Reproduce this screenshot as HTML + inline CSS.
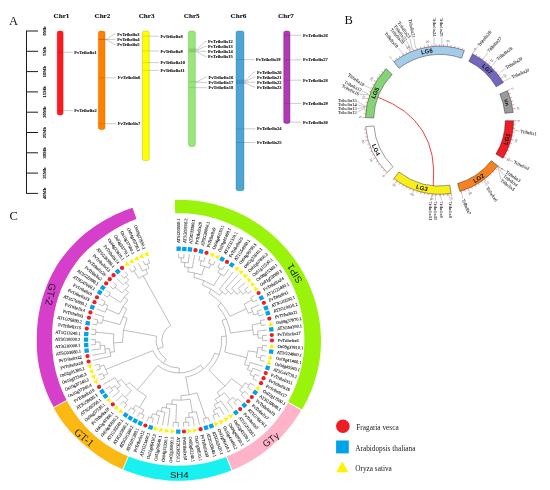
<!DOCTYPE html>
<html lang="en">
<head>
<meta charset="utf-8">
<title>FvTrihelix gene family: chromosomal location, synteny and phylogeny</title>
<style>
html,body{margin:0;padding:0;background:#fff;}
body{width:550px;height:490px;overflow:hidden;}
svg{display:block;}
</style>
</head>
<body>
<svg width="550" height="490" viewBox="0 0 550 490">
<rect width="550" height="490" fill="#fff"/>
<g id="panelA">
<text x="9" y="24.5" font-family="'Liberation Serif',serif" font-size="12.5" fill="#111">A</text>
<g stroke="#1c1c1c" stroke-width="1" fill="none">
<path d="M26.5 30.6V193.8"/>
<path d="M26.5 31H38"/>
<path d="M26.5 51.3H38"/>
<path d="M26.5 71.6H38"/>
<path d="M26.5 91.9H38"/>
<path d="M26.5 112.2H38"/>
<path d="M26.5 132.5H38"/>
<path d="M26.5 152.8H38"/>
<path d="M26.5 173.1H38"/>
<path d="M26.5 193.4H38"/>
</g>
<g font-family="'Liberation Serif',serif" font-weight="bold" font-size="4.5" fill="#111" stroke="#111" stroke-width="0.12" text-anchor="middle">
<text transform="translate(46,31) rotate(-90)">0Mb</text>
<text transform="translate(46,51.3) rotate(-90)">5Mb</text>
<text transform="translate(46,71.6) rotate(-90)">10Mb</text>
<text transform="translate(46,91.9) rotate(-90)">15Mb</text>
<text transform="translate(46,112.2) rotate(-90)">20Mb</text>
<text transform="translate(46,132.5) rotate(-90)">25Mb</text>
<text transform="translate(46,152.8) rotate(-90)">30Mb</text>
<text transform="translate(46,173.1) rotate(-90)">35Mb</text>
<text transform="translate(46,193.4) rotate(-90)">40Mb</text>
</g>
<g font-family="'Liberation Serif',serif" font-weight="bold" font-size="7.1" fill="#111" stroke="#111" stroke-width="0.12" text-anchor="middle">
<text x="61.5" y="18.1">Chr1</text>
<text x="102.4" y="18.1">Chr2</text>
<text x="146.6" y="18.1">Chr3</text>
<text x="191.7" y="18.1">Chr5</text>
<text x="238.5" y="18.1">Chr6</text>
<text x="286" y="18.1">Chr7</text>
</g>
<rect x="57.2" y="31" width="5.9" height="84" rx="1.9" ry="1.9" fill="#fb1a1f" stroke="#d01015" stroke-width="0.4"/>
<rect x="98.3" y="31" width="6.7" height="98.5" rx="1.9" ry="1.9" fill="#ff8000" stroke="#d86a00" stroke-width="0.4"/>
<rect x="142.4" y="31" width="6.8" height="129.6" rx="1.9" ry="1.9" fill="#ffff00" stroke="#b8a800" stroke-width="0.4"/>
<rect x="188.5" y="31" width="6.8" height="115.5" rx="1.9" ry="1.9" fill="#98e878" stroke="#5fae48" stroke-width="0.4"/>
<rect x="236" y="31" width="8" height="159.7" rx="1.9" ry="1.9" fill="#4ea5d4" stroke="#2f7fae" stroke-width="0.4"/>
<rect x="283.7" y="31" width="6.3" height="92.5" rx="1.9" ry="1.9" fill="#b03ab4" stroke="#7d2482" stroke-width="0.4"/>
<g stroke="#8a8a8a" stroke-width="0.45" fill="none">
<path d="M63.1 52.3H65.1L71.2 52.3H72.7"/>
<path d="M63.1 110.6H65.1L71.2 110.6H72.7"/>
<path d="M105 39.2H107L114.1 34H115.6"/>
<path d="M105 39.5H107L114.1 39.4H115.6"/>
<path d="M105 39.8H107L114.1 44.3H115.6"/>
<path d="M105 77.9H107L114.7 77.9H116.2"/>
<path d="M105 123.7H107L114.7 123.7H116.2"/>
<path d="M149.2 36.2H151.2L157.3 36.2H158.8"/>
<path d="M149.2 51H151.2L157.3 51H158.8"/>
<path d="M149.2 62.6H151.2L157.3 62.6H158.8"/>
<path d="M149.2 70.4H151.2L157.3 70.4H158.8"/>
<path d="M195.3 49H197.3L205 41.6H206.5"/>
<path d="M195.3 50H197.3L205 46.5H206.5"/>
<path d="M195.3 51H197.3L205 51.4H206.5"/>
<path d="M195.3 52H197.3L205 56.3H206.5"/>
<path d="M195.3 81.6H197.3L205.4 77.2H206.9"/>
<path d="M195.3 82.2H197.3L205.4 82.5H206.9"/>
<path d="M195.3 87.7H197.3L205.4 87.7H206.9"/>
<path d="M244 59.6H246L252.8 59.6H254.3"/>
<path d="M244 80.2H246L253.8 72H255.3"/>
<path d="M244 81.3H246L253.8 77.2H255.3"/>
<path d="M244 82.4H246L253.8 82.1H255.3"/>
<path d="M244 83.5H246L253.8 87H255.3"/>
<path d="M244 128.8H246L253.8 128.8H255.3"/>
<path d="M244 142.5H246L253.8 142.5H255.3"/>
<path d="M290 35.3H292L299.9 35.3H301.4"/>
<path d="M290 59.9H292L299.9 59.9H301.4"/>
<path d="M290 80.2H292L299.9 80.2H301.4"/>
<path d="M290 103.4H292L299.9 103.4H301.4"/>
<path d="M290 122.1H292L299.9 122.1H301.4"/>
</g>
<g stroke="#000" stroke-opacity="0.3" stroke-width="0.4" fill="none">
<path d="M57.4 52.3H62.9"/>
<path d="M57.4 110.6H62.9"/>
<path d="M98.5 39.2H104.8"/>
<path d="M98.5 39.5H104.8"/>
<path d="M98.5 77.9H104.8"/>
<path d="M98.5 123.7H104.8"/>
<path d="M142.6 36.2H149"/>
<path d="M142.6 51H149"/>
<path d="M142.6 62.6H149"/>
<path d="M142.6 70.4H149"/>
<path d="M188.7 49H195.1"/>
<path d="M188.7 50H195.1"/>
<path d="M188.7 51H195.1"/>
<path d="M188.7 52H195.1"/>
<path d="M188.7 81.6H195.1"/>
<path d="M188.7 87.7H195.1"/>
<path d="M236.2 59.6H243.8"/>
<path d="M236.2 80.2H243.8"/>
<path d="M236.2 81.3H243.8"/>
<path d="M236.2 82.4H243.8"/>
<path d="M236.2 83.5H243.8"/>
<path d="M236.2 128.8H243.8"/>
<path d="M236.2 142.5H243.8"/>
<path d="M283.9 35.3H289.8"/>
<path d="M283.9 59.9H289.8"/>
<path d="M283.9 80.2H289.8"/>
<path d="M283.9 103.4H289.8"/>
<path d="M283.9 122.1H289.8"/>
</g>
<g font-family="'Liberation Serif',serif" font-weight="bold" font-size="4.5" fill="#111" stroke="#111" stroke-width="0.1">
<text x="74.3" y="53.8">FvTrihelix1</text>
<text x="74.3" y="112.1">FvTrihelix2</text>
<text x="117.2" y="35.5">FvTrihelix3</text>
<text x="117.2" y="40.9">FvTrihelix4</text>
<text x="117.2" y="45.8">FvTrihelix5</text>
<text x="117.8" y="79.4">FvTrihelix6</text>
<text x="117.8" y="125.2">FvTrihelix7</text>
<text x="160.4" y="37.7">FvTrihelix8</text>
<text x="160.4" y="52.5">FvTrihelix9</text>
<text x="160.4" y="64.1">FvTrihelix10</text>
<text x="160.4" y="71.9">FvTrihelix11</text>
<text x="208.1" y="43.1">FvTrihelix12</text>
<text x="208.1" y="48">FvTrihelix13</text>
<text x="208.1" y="52.9">FvTrihelix14</text>
<text x="208.1" y="57.8">FvTrihelix15</text>
<text x="208.5" y="78.7">FvTrihelix16</text>
<text x="208.5" y="84">FvTrihelix17</text>
<text x="208.5" y="89.2">FvTrihelix18</text>
<text x="255.9" y="61.1">FvTrihelix19</text>
<text x="256.9" y="73.5">FvTrihelix20</text>
<text x="256.9" y="78.7">FvTrihelix21</text>
<text x="256.9" y="83.6">FvTrihelix22</text>
<text x="256.9" y="88.5">FvTrihelix23</text>
<text x="256.9" y="130.3">FvTrihelix24</text>
<text x="256.9" y="144">FvTrihelix25</text>
<text x="303" y="36.8">FvTrihelix26</text>
<text x="303" y="61.4">FvTrihelix27</text>
<text x="303" y="81.7">FvTrihelix28</text>
<text x="303" y="104.9">FvTrihelix29</text>
<text x="303" y="123.6">FvTrihelix30</text>
</g>
</g>
<g id="panelB">
<text x="344.5" y="24" font-family="'Liberation Serif',serif" font-size="12.5" fill="#111">B</text>
<g stroke="#f23a40" stroke-width="0.5" fill="none">
<path d="M393.88 61.81L392.03 59.44M396.92 59.55L395.83 58M400.08 57.46L399.07 55.85M403.34 55.52L402.41 53.86M406.69 53.76L405.85 52.06M410.13 52.17L408.94 49.41M413.65 50.76L412.98 48.98M417.23 49.53L416.66 47.71M420.87 48.48L420.39 46.64M424.56 47.62L424.18 45.76M428.29 46.95L427.84 43.99M432.05 46.48L431.86 44.59M435.83 46.19L435.73 44.29M439.62 46.1L439.62 44.2M443.4 46.2L443.5 44.31M447.18 46.5L447.49 43.52M450.94 46.99L451.23 45.11M454.67 47.67L455.05 45.81M458.35 48.54L458.84 46.7M461.99 49.6L462.57 47.79"/>
<path d="M472.56 53.89L473.9 51.2M475.91 55.66L476.84 54.01M479.16 57.61L480.18 56M482.31 59.72L483.41 58.17M485.34 61.98L486.52 60.49M488.26 64.4L490.23 62.14M491.05 66.97L492.37 65.6M493.7 69.67L495.09 68.38M496.21 72.51L497.67 71.29M498.58 75.47L500.09 74.32M500.79 78.55L503.27 76.86M502.84 81.74L504.46 80.75"/>
<path d="M507.45 90.65L510.21 89.46M508.88 94.16L510.65 93.5M510.12 97.75L511.93 97.17M511.17 101.38L513.01 100.9M512.04 105.07L513.9 104.68M512.72 108.8L515.68 108.34"/>
<path d="M513.6 120.72L516.6 120.74M513.47 124.5L515.37 124.61M513.16 128.28L515.05 128.49M512.65 132.03L514.52 132.34M511.95 135.76L513.81 136.16M511.06 139.44L513.96 140.22M509.98 143.07L511.79 143.66M508.72 146.65L510.49 147.32M507.28 150.15L509.02 150.92M505.66 153.58L507.35 154.43M503.87 156.91L506.47 158.4"/>
<path d="M497.89 165.82L500.26 167.67M495.48 168.75L496.92 169.99M492.93 171.54L494.3 172.86M490.23 174.21L491.54 175.59M487.41 176.73L488.64 178.18M484.46 179.11L486.28 181.49M481.39 181.33L482.46 182.89M478.21 183.39L479.2 185.01M474.93 185.28L475.83 186.95M471.55 187.01L472.37 188.72M468.1 188.56L469.25 191.33M464.56 189.93L465.21 191.72M460.97 191.12L461.52 192.94"/>
<path d="M451.09 193.39L451.56 196.35M447.34 193.88L447.54 195.77M443.56 194.19L443.66 196.09M439.77 194.3L439.78 196.2M435.98 194.22L435.89 196.11M432.2 193.94L431.91 196.93M428.45 193.47L428.16 195.35M424.71 192.81L424.34 194.67M421.02 191.96L420.55 193.8M417.38 190.92L416.81 192.73M413.79 189.7L412.75 192.51M410.27 188.29L409.52 190.04M406.83 186.71L405.99 188.42M403.47 184.95L402.55 186.61M400.21 183.03L399.2 184.64M397.05 180.94L395.33 183.4M394 178.69L392.84 180.19"/>
<path d="M387.1 172.6L384.98 174.72M384.49 169.85L383.08 171.12M382.03 166.97L380.55 168.17M379.71 163.97L378.18 165.1M377.55 160.86L375.96 161.9M375.56 157.64L372.97 159.16M373.72 154.32L372.04 155.2M372.07 150.92L370.34 151.7M370.58 147.43L368.82 148.13M369.28 143.87L367.48 144.48M368.16 140.25L365.28 141.06M367.23 136.58L365.38 137M366.49 132.86L364.62 133.19M365.94 129.11L364.05 129.34"/>
<path d="M365.45 117.61L362.45 117.51M365.67 113.83L363.78 113.67M366.1 110.07L364.21 109.81M366.71 106.33L364.84 105.97M367.51 102.63L365.67 102.17M368.51 98.97L365.63 98.11M369.68 95.37L367.89 94.73M371.05 91.83L369.29 91.1M372.59 88.37L370.87 87.55M374.3 84.99L372.63 84.09M376.18 81.7L373.62 80.15M378.24 78.52L376.66 77.45M380.45 75.44L378.93 74.29M382.81 72.48L381.36 71.26M385.32 69.65L383.94 68.35"/>
</g>
<g font-family="'Liberation Sans',sans-serif" font-size="3.1" fill="#444" text-anchor="middle">
<text transform="translate(390.68,57.71) rotate(-38)" y="0.9">0</text>
<text transform="translate(408.07,47.39) rotate(-23.35)" y="0.9">10</text>
<text transform="translate(427.51,41.81) rotate(-8.7)" y="0.9">20</text>
<text transform="translate(447.72,41.33) rotate(5.95)" y="0.9">30</text>
<text transform="translate(474.88,49.23) rotate(26.5)" y="0.9">0</text>
<text transform="translate(491.68,60.49) rotate(41.15)" y="0.9">10</text>
<text transform="translate(505.09,75.63) rotate(55.8)" y="0.9">20</text>
<text transform="translate(512.22,88.58) rotate(66.5)" y="0.9">0</text>
<text transform="translate(517.86,108) rotate(81.15)" y="0.9">10</text>
<text transform="translate(518.8,120.75) rotate(-89.6)" y="0.9">0</text>
<text transform="translate(516.08,140.79) rotate(-74.95)" y="0.9">10</text>
<text transform="translate(508.38,159.49) rotate(-60.3)" y="0.9">20</text>
<text transform="translate(501.99,169.02) rotate(-52)" y="0.9">0</text>
<text transform="translate(487.61,183.24) rotate(-37.35)" y="0.9">10</text>
<text transform="translate(470.1,193.36) rotate(-22.7)" y="0.9">20</text>
<text transform="translate(451.91,198.52) rotate(-9)" y="0.9">0</text>
<text transform="translate(431.69,199.11) rotate(5.65)" y="0.9">10</text>
<text transform="translate(411.99,194.57) rotate(20.3)" y="0.9">20</text>
<text transform="translate(394.07,185.2) rotate(34.95)" y="0.9">30</text>
<text transform="translate(383.43,176.27) rotate(45)" y="0.9">0</text>
<text transform="translate(371.07,160.27) rotate(59.65)" y="0.9">10</text>
<text transform="translate(363.16,141.66) rotate(74.3)" y="0.9">20</text>
<text transform="translate(360.25,117.43) rotate(272)" y="0.9">0</text>
<text transform="translate(363.52,97.48) rotate(286.65)" y="0.9">10</text>
<text transform="translate(371.74,79) rotate(301.3)" y="0.9">20</text>
</g>
<path d="M393.88 61.81A74.1 74.1 0 0 1 464.36 50.39L461.57 58.21A65.8 65.8 0 0 0 398.99 68.35Z" fill="#a3cbea" stroke="#222" stroke-width="0.45"/>
<path d="M472.56 53.89A74.1 74.1 0 0 1 503.35 82.59L496.2 86.8A65.8 65.8 0 0 0 468.86 61.31Z" fill="#7266bf" stroke="#222" stroke-width="0.45"/>
<path d="M507.45 90.65A74.1 74.1 0 0 1 513.19 112.45L504.94 113.32A65.8 65.8 0 0 0 499.84 93.96Z" fill="#9a9a9a" stroke="#222" stroke-width="0.45"/>
<path d="M513.6 120.72A74.1 74.1 0 0 1 503.02 158.36L495.9 154.09A65.8 65.8 0 0 0 505.3 120.66Z" fill="#ee1c24" stroke="#222" stroke-width="0.45"/>
<path d="M497.89 165.82A74.1 74.1 0 0 1 459.92 191.43L457.64 183.45A65.8 65.8 0 0 0 491.35 160.71Z" fill="#f5821f" stroke="#222" stroke-width="0.45"/>
<path d="M451.09 193.39A74.1 74.1 0 0 1 393.88 178.59L398.99 172.05A65.8 65.8 0 0 0 449.79 185.19Z" fill="#f8ef1a" stroke="#222" stroke-width="0.45"/>
<path d="M387.1 172.6A74.1 74.1 0 0 1 365.68 126.66L373.95 125.93A65.8 65.8 0 0 0 392.97 166.73Z" fill="#ffffff" stroke="#222" stroke-width="0.45"/>
<path d="M365.45 117.61A74.1 74.1 0 0 1 386.2 68.73L392.17 74.49A65.8 65.8 0 0 0 373.74 117.9Z" fill="#84d475" stroke="#222" stroke-width="0.45"/>
<g font-family="'Liberation Sans',sans-serif" font-weight="bold" font-size="6" fill="#111" text-anchor="middle">
<text transform="translate(426.87,51.4) rotate(-10.4)" y="2.1">LG6</text>
<text transform="translate(487.21,69.04) rotate(43)" y="2.1">LG7</text>
<text transform="translate(507.14,102.39) rotate(75.25)" y="2.1" font-size="5.3">un</text>
<text transform="translate(506.84,139.13) rotate(-74.3)" y="2.1">LG1</text>
<text transform="translate(478.62,178.19) rotate(-34)" y="2.1">LG2</text>
<text transform="translate(421.99,187.92) rotate(14.5)" y="2.1">LG3</text>
<text transform="translate(376.1,149.76) rotate(65)" y="2.1">LG4</text>
<text transform="translate(375.11,92.87) rotate(293)" y="2.1">LG5</text>
</g>
<path d="M377.8 97.2Q439.5 120 433.2 185.8" fill="none" stroke="#ee2a2e" stroke-width="0.9"/>
<g stroke="#666" stroke-width="0.35" fill="none">
<path d="M473.7 51.5L478.07 46.5"/>
<path d="M483.8 58.3L487.86 52.17"/>
<path d="M492.8 65L496.71 60.03"/>
<path d="M499.5 72.9L505.17 68.4"/>
<path d="M505 80.7L511.08 77.66"/>
<path d="M514 130.2L519.61 131.16"/>
<path d="M507.3 159.4L513.25 161.71"/>
<path d="M498 166.3L505.63 171.36"/>
<path d="M497.8 166.6L503.45 175.04"/>
<path d="M497.6 166.9L500.99 179.23"/>
<path d="M483.8 180.7L486.75 186.68"/>
<path d="M461.2 191.8L462.82 198.62"/>
<path d="M448.6 193.8L450.49 200.73"/>
<path d="M440.3 194.3L441.64 200.72"/>
<path d="M434.8 194.2L435.69 200.71"/>
<path d="M432.8 194L430.37 200.75"/>
<path d="M404 54.8L397.83 47.8"/>
<path d="M410.9 50.2L404.08 43.75"/>
<path d="M411.6 49.9L406.41 41.29"/>
<path d="M412.3 49.6L409.78 38.38"/>
<path d="M415.6 48L413.84 38.39"/>
<path d="M434 46L434.09 37.4"/>
<path d="M441.8 46L441.89 37.4"/>
<path d="M371 88.6L364.52 85.54"/>
<path d="M368.2 93.8L362.03 91.03"/>
<path d="M368 94.6L359.7 94.42"/>
<path d="M365.4 106.6L357.47 101.34"/>
<path d="M365.3 107L357.57 104.91"/>
<path d="M365.2 107.4L357.59 108.67"/>
<path d="M365.1 107.8L357.49 112.39"/>
</g>
<g font-family="'Liberation Serif',serif" font-size="4.5" fill="#1a1a1a" stroke="#1a1a1a" stroke-width="0.06">
<text transform="translate(478.6,45.9) rotate(-50.82)" y="1.4" text-anchor="start">Trihelix26</text>
<text transform="translate(488.3,51.5) rotate(-47.45)" y="1.4" text-anchor="start">Trihelix27</text>
<text transform="translate(497.2,59.4) rotate(-38.13)" y="1.4" text-anchor="start">Trihelix28</text>
<text transform="translate(505.8,67.9) rotate(-30.65)" y="1.4" text-anchor="start">Trihelix29</text>
<text transform="translate(511.8,77.3) rotate(-23.43)" y="1.4" text-anchor="start">Trihelix30</text>
<text transform="translate(520.4,131.3) rotate(9.91)" y="1.4" text-anchor="start">Trihelix1</text>
<text transform="translate(514,162) rotate(24.82)" y="1.4" text-anchor="start">Trihelix2</text>
<text transform="translate(506.3,171.8) rotate(33.87)" y="1.4" text-anchor="start">Trihelix3</text>
<text transform="translate(503.9,175.7) rotate(36.67)" y="1.4" text-anchor="start">Trihelix4</text>
<text transform="translate(501.2,180) rotate(37.97)" y="1.4" text-anchor="start">Trihelix5</text>
<text transform="translate(487.1,187.4) rotate(55.33)" y="1.4" text-anchor="start">Trihelix6</text>
<text transform="translate(463,199.4) rotate(65.9)" y="1.4" text-anchor="start">Trihelix7</text>
<text transform="translate(450.7,201.5) rotate(90)" y="1.4" text-anchor="start">Trihelix8</text>
<text transform="translate(441.8,201.5) rotate(90)" y="1.4" text-anchor="start">Trihelix9</text>
<text transform="translate(435.8,201.5) rotate(90)" y="1.4" text-anchor="start">Trihelix10</text>
<text transform="translate(430.1,201.5) rotate(90)" y="1.4" text-anchor="start">Trihelix11</text>
<text transform="translate(397.3,47.2) rotate(50.51)" y="1.4" text-anchor="end">Trihelix19</text>
<text transform="translate(403.5,43.2) rotate(48.42)" y="1.4" text-anchor="end">Trihelix20</text>
<text transform="translate(406,40.6) rotate(53.19)" y="1.4" text-anchor="end">Trihelix22</text>
<text transform="translate(409.6,37.6) rotate(54.5)" y="1.4" text-anchor="end">Trihelix23</text>
<text transform="translate(413.7,37.6) rotate(77.97)" y="1.4" text-anchor="end">Trihelix21</text>
<text transform="translate(434.1,36.6) rotate(90)" y="1.4" text-anchor="end">Trihelix24</text>
<text transform="translate(441.9,36.6) rotate(90)" y="1.4" text-anchor="end">Trihelix25</text>
<text transform="translate(363.8,85.2) rotate(34.68)" y="1.4" text-anchor="end">Trihelix18</text>
<text transform="translate(361.3,90.7) rotate(28.28)" y="1.4" text-anchor="end">Trihelix17</text>
<text transform="translate(358.9,94.4) rotate(27.33)" y="1.4" text-anchor="end">Trihelix16</text>
<text transform="translate(356.8,100.9) rotate(0)" y="1.4" text-anchor="end">Trihelix15</text>
<text transform="translate(356.8,104.7) rotate(0)" y="1.4" text-anchor="end">Trihelix14</text>
<text transform="translate(356.8,108.8) rotate(0)" y="1.4" text-anchor="end">Trihelix13</text>
<text transform="translate(356.8,112.8) rotate(0)" y="1.4" text-anchor="end">Trihelix12</text>
</g>
</g>
<g id="panelC">
<text x="9.5" y="219.6" font-family="'Liberation Serif',serif" font-size="12.5" fill="#111">C</text>
<path d="M174.79 199.96L178.55 199.89L182.3 199.91L186.05 200.04L189.8 200.27L193.53 200.59L197.26 201.02L200.98 201.55L204.68 202.18L208.37 202.89L212.03 203.71L215.68 204.62L219.3 205.63L222.89 206.73L226.45 207.94L229.97 209.23L233.47 210.62L236.92 212.11L240.33 213.68L243.71 215.35L247.03 217.11L250.31 218.96L253.54 220.89L256.71 222.91L259.83 225.01L262.9 227.2L265.9 229.47L268.84 231.82L271.72 234.25L274.54 236.75L277.28 239.33L279.97 241.97L282.59 244.68L285.14 247.46L287.62 250.31L290.01 253.22L292.33 256.2L294.58 259.24L296.73 262.33L298.81 265.49L300.8 268.7L302.71 271.97L304.53 275.28L306.26 278.65L307.89 282.06L309.44 285.51L310.9 289.01L312.26 292.54L313.52 296.12L314.69 299.72L315.77 303.36L316.74 307.02L317.62 310.71L318.4 314.43L319.08 318.16L319.65 321.92L320.12 325.69L320.48 329.47L320.74 333.26L320.9 337.06L320.95 340.86L320.91 344.66L320.76 348.46L320.51 352.25L320.16 356.04L319.71 359.82L319.07 363.57L318.34 367.3L317.5 371.01L316.57 374.7L315.53 378.35L314.4 381.98L313.18 385.57L311.85 389.13L310.44 392.65L308.93 396.12L307.33 399.56L305.64 402.95L303.86 406.29L301.99 409.58L288.06 401.7L289.67 398.76L291.21 395.78L292.67 392.75L294.04 389.69L295.34 386.6L296.55 383.47L297.67 380.3L298.71 377.11L299.67 373.9L300.53 370.65L301.32 367.39L302.01 364.1L302.61 360.8L303.13 357.49L303.56 354.16L303.9 350.82L304.15 347.47L304.3 344.11L304.37 340.76L304.35 337.4L304.24 334.04L304.04 330.69L303.75 327.35L303.37 324.01L302.9 320.68L302.39 317.36L301.8 314.06L301.12 310.76L300.35 307.49L299.49 304.24L298.54 301L297.51 297.8L296.39 294.62L295.18 291.47L293.9 288.35L292.52 285.27L291.06 282.22L289.52 279.22L287.9 276.25L286.2 273.33L284.42 270.46L282.57 267.63L280.63 264.85L278.63 262.12L276.55 259.45L274.4 256.83L272.17 254.27L269.88 251.76L267.51 249.34L265.05 247L262.53 244.73L259.96 242.52L257.32 240.39L254.62 238.32L251.88 236.33L249.08 234.41L246.23 232.57L243.33 230.81L240.38 229.12L237.39 227.52L234.36 225.99L231.29 224.54L228.18 223.18L225.03 221.9L221.86 220.71L218.65 219.6L215.41 218.58L212.15 217.65L208.86 216.8L205.55 216.04L202.22 215.37L198.88 214.79L195.52 214.3L192.15 213.9L188.77 213.59L185.38 213.37L181.98 213.24L178.59 213.2L175.19 213.26Z" fill="#9af30a"/>
<path d="M301.14 410.24L299.16 413.56L297.09 416.83L294.92 420.04L292.67 423.2L290.34 426.28L287.92 429.31L285.41 432.26L282.83 435.14L280.17 437.96L277.43 440.69L274.62 443.35L271.74 445.93L268.78 448.43L265.76 450.84L262.67 453.17L259.52 455.42L256.31 457.58L253.04 459.64L249.71 461.62L246.34 463.5L242.91 465.29L239.43 466.99L235.91 468.59L232.35 470.09L226.74 456.4L229.94 455.09L233.11 453.7L236.24 452.22L239.33 450.65L242.38 449L245.38 447.26L248.33 445.44L251.23 443.54L254.09 441.56L256.88 439.51L259.62 437.37L262.31 435.16L264.89 432.83L267.37 430.39L269.77 427.89L272.11 425.32L274.37 422.69L276.56 420L278.68 417.25L280.72 414.45L282.67 411.59L284.55 408.68L286.35 405.72L288.06 402.71Z" fill="#ffb3c9"/>
<path d="M231.37 470.27L227.82 471.67L224.23 472.98L220.6 474.19L216.94 475.3L213.26 476.31L209.54 477.22L205.8 478.02L202.04 478.73L198.27 479.33L194.47 479.83L190.66 480.23L186.85 480.52L183.02 480.71L179.19 480.8L175.36 480.77L171.54 480.63L167.71 480.39L163.9 480.04L160.09 479.59L156.3 479.04L152.52 478.38L148.77 477.62L145.03 476.76L141.32 475.8L137.64 474.74L133.98 473.58L130.36 472.32L126.78 470.96L123.23 469.5L128.81 456.54L132.03 457.78L135.28 458.94L138.56 460L141.86 460.97L145.19 461.85L148.54 462.65L151.9 463.34L155.29 463.95L158.68 464.47L162.08 464.89L165.5 465.21L168.91 465.45L172.33 465.59L175.76 465.64L179.17 465.6L182.59 465.59L186.01 465.48L189.42 465.27L192.83 464.98L196.23 464.59L199.62 464.11L202.99 463.54L206.35 462.88L209.69 462.12L213.01 461.28L216.31 460.34L219.58 459.31L222.82 458.2L226.03 457Z" fill="#19f0f0"/>
<path d="M122.28 469.2L118.75 467.61L115.25 465.92L111.81 464.14L108.41 462.26L105.07 460.29L101.78 458.22L98.55 456.07L95.39 453.83L92.28 451.5L89.23 449.09L86.26 446.59L83.32 444.05L80.4 441.48L77.56 438.82L74.78 436.09L72.08 433.28L69.45 430.39L66.9 427.43L64.43 424.39L62.04 421.29L59.81 418.07L57.73 414.75L55.74 411.38L53.85 407.95L66.95 400.84L68.67 403.89L70.46 406.9L72.34 409.86L74.3 412.77L76.34 415.62L78.46 418.41L80.65 421.14L82.92 423.82L85.26 426.42L87.67 428.97L90.15 431.44L92.7 433.85L95.33 436.17L98.03 438.4L100.79 440.55L103.61 442.63L106.48 444.63L109.41 446.55L112.39 448.38L115.41 450.14L118.48 451.81L121.6 453.39L124.76 454.89L127.95 456.29Z" fill="#fdb913"/>
<path d="M53.56 406.98L51.78 403.59L50.09 400.15L48.5 396.66L47 393.14L45.6 389.57L44.29 385.97L43.08 382.33L41.96 378.66L40.95 374.97L40.04 371.24L39.22 367.49L38.51 363.72L37.9 359.93L37.47 356.12L37.15 352.3L36.92 348.47L36.81 344.64L36.79 340.81L36.79 336.98L36.87 333.15L37.05 329.32L37.34 325.5L37.72 321.68L38.22 317.88L38.81 314.08L39.5 310.31L40.3 306.55L41.2 302.81L42.2 299.1L43.3 295.41L44.5 291.76L45.82 288.14L47.24 284.56L48.76 281.03L50.37 277.53L52.07 274.08L53.87 270.67L55.76 267.31L57.75 264.01L59.93 260.83L62.19 257.72L64.53 254.66L66.95 251.68L69.46 248.76L72.03 245.91L74.68 243.14L77.4 240.44L80.19 237.82L83.05 235.27L86.01 232.84L89.04 230.51L92.12 228.26L95.27 226.11L98.46 224.04L101.69 222.02L104.94 220.06L108.25 218.19L111.6 216.42L114.99 214.73L118.43 213.14L121.91 211.64L125.42 210.23L128.97 208.93L132.55 207.72L136.52 219.04L133.29 220.26L130.1 221.57L126.94 222.96L123.82 224.44L120.75 226L117.72 227.64L114.73 229.36L111.79 231.16L108.91 233.04L106.07 234.99L103.29 237.02L100.51 239.06L97.75 241.11L95.04 243.25L92.38 245.46L89.79 247.74L87.25 250.09L84.77 252.51L82.36 255L80.04 257.57L77.89 260.3L75.82 263.08L73.82 265.91L71.9 268.79L70.06 271.73L68.3 274.71L66.62 277.73L65.03 280.8L63.51 283.91L62.09 287.06L60.75 290.25L59.54 293.49L58.42 296.75L57.39 300.04L56.45 303.36L55.6 306.7L54.84 310.05L54.17 313.43L53.59 316.81L53.1 320.21L52.71 323.62L52.41 327.04L52.2 330.46L52.08 333.88L52.05 337.3L52.1 340.72L52.13 344.14L52.25 347.56L52.47 350.97L52.78 354.38L53.18 357.78L53.67 361.16L54.25 364.54L54.93 367.89L55.69 371.23L56.55 374.55L57.49 377.84L58.52 381.11L59.64 384.35L60.85 387.56L62.14 390.74L63.52 393.88L64.99 396.99L66.53 400.05Z" fill="#d53fca"/>
<text transform="translate(294.59,273.6) rotate(-120.5)" font-family="'Liberation Sans',sans-serif" font-size="9.5" fill="#1a1a1a" text-anchor="middle" y="3.32">SIP1</text>
<text transform="translate(270.76,439.63) rotate(-38)" font-family="'Liberation Sans',sans-serif" font-size="9.5" fill="#1a1a1a" text-anchor="middle" y="3.32">GTγ</text>
<text transform="translate(179.23,474.3) rotate(0)" font-family="'Liberation Sans',sans-serif" font-size="9.6" fill="#1a1a1a" text-anchor="middle" y="3.36">SH4</text>
<text transform="translate(84.23,437.32) rotate(39.5)" font-family="'Liberation Serif',serif" font-size="10.6" fill="#1a1a1a" text-anchor="middle" y="3.71">GT-1</text>
<text transform="translate(50.68,294.25) rotate(101)" font-family="'Liberation Sans',sans-serif" font-size="10" fill="#1a1a1a" text-anchor="middle" y="3.5">GT-2</text>
<g transform="translate(179.0,340.2) scale(1.008,0.992) translate(-179.0,-340.2)">
<path d="M178.69 252.7L178.71 257.2M184 252.84L183.75 257.34M178.71 257.2A83 83 0 0 1 183.75 257.34M181.23 257.23L181.11 261.73M189.3 253.31L188.24 262.25M181.11 261.73A78.5 78.5 0 0 1 188.24 262.25M184.68 261.91L184.35 266.39M194.55 254.09L192.15 267.38M184.35 266.39A74 74 0 0 1 192.15 267.38M199.75 255.19L198.68 259.57M204.87 256.61L203.54 260.91M198.68 259.57A83 83 0 0 1 203.54 260.91M209.89 258.33L208.3 262.54M214.8 260.36L212.96 264.46M208.3 262.54A83 83 0 0 1 212.96 264.46M201.12 260.2L199.92 264.54M210.64 263.47L208.93 267.63M199.92 264.54A78.5 78.5 0 0 1 208.93 267.63M188.26 266.78L187.7 271.25M204.47 265.95L201.55 274.46M187.7 271.25A69.5 69.5 0 0 1 201.55 274.46M219.58 262.68L217.49 266.66M224.21 265.28L221.88 269.14M217.49 266.66A83 83 0 0 1 221.88 269.14M219.71 267.87L217.5 271.79M228.67 268.16L223.56 275.57M217.5 271.79A78.5 78.5 0 0 1 223.56 275.57M194.71 272.5L193.69 276.88M220.57 273.61L213.42 285.06M193.69 276.88A65 65 0 0 1 213.42 285.06M247.93 286.3L244.38 289.07M251.07 290.58L247.36 293.13M244.38 289.07A83 83 0 0 1 247.36 293.13M244.53 282.22L237.79 288.18M245.9 291.08L242.28 293.74M237.79 288.18A78.5 78.5 0 0 1 242.28 293.74M240.89 278.35L231.34 287.89M240.1 290.91L236.59 293.74M231.34 287.89A74 74 0 0 1 236.59 293.74M237.03 274.71L225.09 288.18M234.05 290.74L230.7 293.75M225.09 288.18A69.5 69.5 0 0 1 230.7 293.75M232.95 271.31L219.08 289.02M227.97 290.89L224.8 294.08M219.08 289.02A65 65 0 0 1 224.8 294.08M203.9 280.16L202.17 284.31M222.01 291.47L219.04 294.84M202.17 284.31A60.5 60.5 0 0 1 219.04 294.84M253.95 295.04L250.09 297.36M256.55 299.67L252.56 301.75M250.09 297.36A83 83 0 0 1 252.56 301.75M260.88 309.36L256.67 310.94M262.6 314.38L258.3 315.7M256.67 310.94A83 83 0 0 1 258.3 315.7M258.86 304.45L250.65 308.12M257.52 313.31L253.27 314.77M250.65 308.12A78.5 78.5 0 0 1 253.27 314.77M251.36 299.54L243.51 303.95M252.03 311.42L247.85 313.07M243.51 303.95A74 74 0 0 1 247.85 313.07M211.04 288.88L208.66 292.7M245.84 308.43L229.58 316.16M208.66 292.7A56 56 0 0 1 229.58 316.16M264.01 319.49L259.64 320.56M265.11 324.69L260.68 325.48M259.64 320.56A83 83 0 0 1 260.68 325.48M266.36 335.22L261.87 335.48M266.5 340.52L262 340.51M261.87 335.48A83 83 0 0 1 262 340.51M265.9 329.93L256.96 330.99M261.97 337.99L257.47 338.11M256.96 330.99A78.5 78.5 0 0 1 257.47 338.11M260.2 323.01L251.4 324.88M257.3 334.54L252.81 334.87M251.4 324.88A74 74 0 0 1 252.81 334.87M220.8 302.93L217.44 305.93M252.27 329.85L229.99 333M217.44 305.93A51.5 51.5 0 0 1 229.99 333M266.32 345.83L261.83 345.54M265.82 351.11L261.35 350.55M261.83 345.54A83 83 0 0 1 261.35 350.55M265 356.35L260.57 355.52M263.86 361.53L259.5 360.43M260.57 355.52A83 83 0 0 1 259.5 360.43M261.63 348.04L257.15 347.62M260.07 357.98L255.68 357.02M257.15 347.62A78.5 78.5 0 0 1 255.68 357.02M258.6 376.52L254.51 374.65M256.26 381.28L252.29 379.16M254.51 374.65A83 83 0 0 1 252.29 379.16M260.66 371.63L252.26 368.4M253.43 376.93L249.4 374.93M252.26 368.4A78.5 78.5 0 0 1 249.4 374.93M262.41 366.63L249.54 362.55M250.9 371.7L246.78 369.89M249.54 362.55A74 74 0 0 1 246.78 369.89M256.56 352.34L247.66 350.95M248.26 366.26L244.05 364.68M247.66 350.95A69.5 69.5 0 0 1 244.05 364.68M225.72 318.53L221.64 320.42M246.21 357.9L224.45 352.17M221.64 320.42A47 47 0 0 1 224.45 352.17M253.63 385.88L249.79 383.53M250.73 390.31L247.04 387.74M249.79 383.53A83 83 0 0 1 247.04 387.74M247.56 394.57L244.04 391.77M244.14 398.62L240.79 395.61M244.04 391.77A83 83 0 0 1 240.79 395.61M248.45 385.65L244.68 383.19M242.44 393.72L239 390.81M244.68 383.19A78.5 78.5 0 0 1 239 390.81M240.49 402.45L237.33 399.25M236.61 406.06L233.65 402.67M237.33 399.25A83 83 0 0 1 233.65 402.67M235.51 400.99L232.45 397.69M232.52 409.43L227.01 402.31M232.45 397.69A78.5 78.5 0 0 1 227.01 402.31M219.13 417.95L217.07 413.95M214.36 420.24L212.54 416.12M217.07 413.95A83 83 0 0 1 212.54 416.12M223.76 415.38L219.16 407.65M214.82 415.07L212.88 411.01M219.16 407.65A78.5 78.5 0 0 1 212.88 411.01M228.23 412.54L220.63 401.38M216.06 409.4L213.93 405.44M220.63 401.38A74 74 0 0 1 213.93 405.44M229.78 400.06L223.96 393.2M217.34 403.49L215.01 399.65M223.96 393.2A69.5 69.5 0 0 1 215.01 399.65M241.96 387.09L231.13 379.02M219.61 396.6L216.98 392.95M231.13 379.02A65 65 0 0 1 216.98 392.95M225.82 336.05L221.14 336.47M224.59 386.53L208.67 370.35M221.14 336.47A42.3 42.3 0 0 1 208.67 370.35M209.45 422.23L207.89 418.01M204.43 423.92L203.13 419.62M207.89 418.01A83 83 0 0 1 203.13 419.62M188.91 427.14L188.4 422.67M183.63 427.58L183.39 423.08M188.4 422.67A83 83 0 0 1 183.39 423.08M194.14 426.38L192.59 417.52M185.9 422.91L185.52 418.43M192.59 417.52A78.5 78.5 0 0 1 185.52 418.43M199.33 425.31L196.19 412.18M189.07 418.05L188.49 413.59M196.19 412.18A74 74 0 0 1 188.49 413.59M178.34 427.7L178.38 423.2M173.06 427.5L173.36 423.01M178.38 423.2A83 83 0 0 1 173.36 423.01M152.33 423.54L153.7 419.25M147.34 421.77L148.97 417.58M153.7 419.25A83 83 0 0 1 148.97 417.58M157.41 424.99L159.63 416.27M151.32 418.45L152.82 414.21M159.63 416.27A78.5 78.5 0 0 1 152.82 414.21M162.57 426.14L165.1 412.88M156.2 415.32L157.51 411.01M165.1 412.88A74 74 0 0 1 157.51 411.01M167.79 426.98L170.1 409.13M161.28 412.05L162.36 407.68M170.1 409.13A69.5 69.5 0 0 1 162.36 407.68M175.87 423.14L176.55 405.15M166.21 408.51L167.04 404.09M176.55 405.15A65 65 0 0 1 167.04 404.09M192.36 412.98L189.92 399.71M171.77 404.8L172.27 400.32M189.92 399.71A60.5 60.5 0 0 1 172.27 400.32M205.52 418.85L196.89 393.26M181.12 400.66L180.96 396.17M196.89 393.26A56 56 0 0 1 180.96 396.17M218.7 354.81L214.48 353.25M189.03 395.29L185.77 377.39M214.48 353.25A37.8 37.8 0 0 1 185.77 377.39M142.47 419.71L144.35 415.62M137.74 417.36L139.86 413.39M144.35 415.62A83 83 0 0 1 139.86 413.39M133.16 414.73L135.51 410.9M128.74 411.82L131.32 408.14M135.51 410.9A83 83 0 0 1 131.32 408.14M142.09 414.54L144.09 410.51M133.4 409.55L135.87 405.79M144.09 410.51A78.5 78.5 0 0 1 135.87 405.79M124.51 408.66L127.31 405.14M120.47 405.25L123.48 401.9M127.31 405.14A83 83 0 0 1 123.48 401.9M125.37 403.55L128.28 400.11M116.66 401.6L123.07 395.28M128.28 400.11A78.5 78.5 0 0 1 123.07 395.28M109.71 393.64L113.28 390.89M106.62 389.36L110.34 386.83M113.28 390.89A83 83 0 0 1 110.34 386.83M113.06 397.72L119.85 391.81M111.78 388.88L115.42 386.24M119.85 391.81A78.5 78.5 0 0 1 115.42 386.24M117.57 389.08L121.09 386.27M103.78 384.91L115.39 378.01M121.09 386.27A74 74 0 0 1 115.39 378.01M125.62 397.76L131.74 391.16M118.1 382.24L121.8 379.68M131.74 391.16A69.5 69.5 0 0 1 121.8 379.68M139.91 408.27L146.63 396.57M126.46 385.69L129.86 382.75M146.63 396.57A65 65 0 0 1 129.86 382.75M203.33 369.13L200.24 365.46M137.66 390.36L158.01 365.67M200.24 365.46A33 33 0 0 1 158.01 365.67M101.22 380.29L105.22 378.23M98.95 375.52L103.06 373.71M105.22 378.23A83 83 0 0 1 103.06 373.71M96.96 370.63L101.18 369.07M95.28 365.63L99.58 364.32M101.18 369.07A83 83 0 0 1 99.58 364.32M104.11 375.98L108.17 374.04M100.35 366.7L104.61 365.27M108.17 374.04A78.5 78.5 0 0 1 104.61 365.27M179.16 373.2L179.14 368.2M106.26 369.71L153.05 350.73M179.14 368.2A28 28 0 0 1 153.05 350.73M91.63 344.88L96.12 344.64M91.5 339.61L96 339.64M96.12 344.64A83 83 0 0 1 96 339.64M92.07 350.14L101.01 349.12M96.02 342.14L100.52 342.04M101.01 349.12A78.5 78.5 0 0 1 100.52 342.04M92.82 355.36L106.12 353.03M100.68 345.58L105.17 345.27M106.12 353.03A74 74 0 0 1 105.17 345.27M93.9 360.53L111.4 356.35M105.54 349.16L110.01 348.62M111.4 356.35A69.5 69.5 0 0 1 110.01 348.62M91.7 334.33L96.19 334.64M92.21 329.08L96.67 329.65M96.19 334.64A83 83 0 0 1 96.67 329.65M110.6 352.5L115.03 351.71M96.39 332.14L114.31 333.89M115.03 351.71A65 65 0 0 1 114.31 333.89M93.04 323.87L97.46 324.71M94.18 318.72L98.54 319.83M97.46 324.71A83 83 0 0 1 98.54 319.83M97.96 322.26L102.36 323.23M95.63 313.65L104.2 316.38M102.36 323.23A78.5 78.5 0 0 1 104.2 316.38M99.42 303.81L103.52 305.68M101.76 299.08L105.73 301.2M103.52 305.68A83 83 0 0 1 105.73 301.2M97.38 308.67L105.77 311.92M104.59 303.43L108.63 305.42M105.77 311.92A78.5 78.5 0 0 1 108.63 305.42M104.38 294.51L108.22 296.86M107.27 290.09L110.96 292.67M108.22 296.86A83 83 0 0 1 110.96 292.67M110.42 285.86L113.94 288.66M113.81 281.83L117.17 284.83M113.94 288.66A83 83 0 0 1 117.17 284.83M121.31 274.41L124.27 277.8M125.37 271.06L128.13 274.61M124.27 277.8A83 83 0 0 1 128.13 274.61M117.45 278.01L123.78 284.41M126.18 276.18L129.04 279.65M123.78 284.41A78.5 78.5 0 0 1 129.04 279.65M115.53 286.72L122.41 292.52M126.36 281.97L129.38 285.31M122.41 292.52A74 74 0 0 1 129.38 285.31M109.56 294.74L120.85 302.14M125.77 288.79L129.01 291.92M120.85 302.14A69.5 69.5 0 0 1 129.01 291.92M107.13 308.64L119.49 314.06M124.69 296.84L128.2 299.64M119.49 314.06A65 65 0 0 1 128.2 299.64M103.2 319.79L120.58 324.47M123.38 306.57L127.23 308.9M120.58 324.47A60.5 60.5 0 0 1 127.23 308.9M114.05 342.82L123.05 342.46M123.36 316.45L127.5 318.22M123.05 342.46A56 56 0 0 1 127.5 318.22M163.42 363.46L166.31 359.14M123.92 330.09L156.57 336.08M166.31 359.14A22.8 22.8 0 0 1 156.57 336.08M129.64 267.95L132.18 271.67M134.08 265.11L136.39 268.97M132.18 271.67A83 83 0 0 1 136.39 268.97M143.43 260.25L145.26 264.37M148.31 258.26L149.89 262.47M145.26 264.37A83 83 0 0 1 149.89 262.47M138.68 262.54L142.83 270.53M147.56 263.38L149.27 267.55M142.83 270.53A78.5 78.5 0 0 1 149.27 267.55M134.26 270.29L139.11 277.87M146.01 268.97L147.91 273.05M139.11 277.87A74 74 0 0 1 147.91 273.05M158 349.07L163.34 346.81M143.43 275.31L170.83 325.29M163.34 346.81A17 17 0 0 1 170.83 325.29" fill="none" stroke="#7d7d7d" stroke-width="0.5"/>
<g>
<rect x="-2.15" y="-2.15" width="4.3" height="4.3" fill="#00a2e8" transform="translate(178.68,248) rotate(-0.2)"/>
<rect x="-2.15" y="-2.15" width="4.3" height="4.3" fill="#00a2e8" transform="translate(184.27,248.15) rotate(3.28)"/>
<rect x="-2.15" y="-2.15" width="4.3" height="4.3" fill="#00a2e8" transform="translate(189.85,248.64) rotate(6.76)"/>
<circle cx="195.38" cy="249.47" r="2.1" fill="#ee1c24"/>
<rect x="-2.15" y="-2.15" width="4.3" height="4.3" fill="#00a2e8" transform="translate(200.86,250.63) rotate(13.72)"/>
<circle cx="206.25" cy="252.12" r="2.1" fill="#ee1c24"/>
<path d="M0 -2.5L2.5 2.1H-2.5Z" fill="#fff200" transform="translate(211.55,253.94) rotate(-69.33)"/>
<path d="M0 -2.5L2.5 2.1H-2.5Z" fill="#fff200" transform="translate(216.72,256.07) rotate(-65.85)"/>
<rect x="-2.15" y="-2.15" width="4.3" height="4.3" fill="#00a2e8" transform="translate(221.76,258.51) rotate(27.63)"/>
<circle cx="226.63" cy="261.26" r="2.1" fill="#ee1c24"/>
<rect x="-2.15" y="-2.15" width="4.3" height="4.3" fill="#00a2e8" transform="translate(231.34,264.29) rotate(34.59)"/>
<path d="M0 -2.5L2.5 2.1H-2.5Z" fill="#fff200" transform="translate(235.85,267.61) rotate(-51.94)"/>
<path d="M0 -2.5L2.5 2.1H-2.5Z" fill="#fff200" transform="translate(240.14,271.19) rotate(-48.46)"/>
<path d="M0 -2.5L2.5 2.1H-2.5Z" fill="#fff200" transform="translate(244.22,275.03) rotate(-44.98)"/>
<path d="M0 -2.5L2.5 2.1H-2.5Z" fill="#fff200" transform="translate(248.05,279.1) rotate(-41.5)"/>
<path d="M0 -2.5L2.5 2.1H-2.5Z" fill="#fff200" transform="translate(251.63,283.4) rotate(-38.03)"/>
<path d="M0 -2.5L2.5 2.1H-2.5Z" fill="#fff200" transform="translate(254.94,287.91) rotate(-34.55)"/>
<circle cx="257.97" cy="292.62" r="2.1" fill="#ee1c24"/>
<rect x="-2.15" y="-2.15" width="4.3" height="4.3" fill="#00a2e8" transform="translate(260.71,297.49) rotate(62.41)"/>
<circle cx="263.15" cy="302.53" r="2.1" fill="#ee1c24"/>
<rect x="-2.15" y="-2.15" width="4.3" height="4.3" fill="#00a2e8" transform="translate(265.28,307.7) rotate(69.36)"/>
<rect x="-2.15" y="-2.15" width="4.3" height="4.3" fill="#00a2e8" transform="translate(267.09,312.99) rotate(72.84)"/>
<circle cx="268.58" cy="318.38" r="2.1" fill="#ee1c24"/>
<path d="M0 -2.5L2.5 2.1H-2.5Z" fill="#fff200" transform="translate(269.74,323.85) rotate(-10.21)"/>
<rect x="-2.15" y="-2.15" width="4.3" height="4.3" fill="#00a2e8" transform="translate(270.56,329.38) rotate(83.26)"/>
<circle cx="271.05" cy="334.95" r="2.1" fill="#ee1c24"/>
<circle cx="271.2" cy="340.54" r="2.1" fill="#ee1c24"/>
<path d="M0 -2.5L2.5 2.1H-2.5Z" fill="#fff200" transform="translate(271.01,346.13) rotate(3.69)"/>
<rect x="-2.15" y="-2.15" width="4.3" height="4.3" fill="#00a2e8" transform="translate(270.48,351.69) rotate(97.16)"/>
<path d="M0 -2.5L2.5 2.1H-2.5Z" fill="#fff200" transform="translate(269.62,357.21) rotate(10.63)"/>
<path d="M0 -2.5L2.5 2.1H-2.5Z" fill="#fff200" transform="translate(268.42,362.67) rotate(14.11)"/>
<rect x="-2.15" y="-2.15" width="4.3" height="4.3" fill="#00a2e8" transform="translate(266.89,368.05) rotate(107.58)"/>
<circle cx="265.05" cy="373.32" r="2.1" fill="#ee1c24"/>
<circle cx="262.88" cy="378.47" r="2.1" fill="#ee1c24"/>
<circle cx="260.41" cy="383.48" r="2.1" fill="#ee1c24"/>
<path d="M0 -2.5L2.5 2.1H-2.5Z" fill="#fff200" transform="translate(257.64,388.33) rotate(31.47)"/>
<rect x="-2.15" y="-2.15" width="4.3" height="4.3" fill="#00a2e8" transform="translate(254.58,393.01) rotate(124.94)"/>
<circle cx="251.24" cy="397.49" r="2.1" fill="#ee1c24"/>
<circle cx="247.64" cy="401.75" r="2.1" fill="#ee1c24"/>
<rect x="-2.15" y="-2.15" width="4.3" height="4.3" fill="#00a2e8" transform="translate(243.79,405.8) rotate(135.35)"/>
<circle cx="239.7" cy="409.6" r="2.1" fill="#ee1c24"/>
<rect x="-2.15" y="-2.15" width="4.3" height="4.3" fill="#00a2e8" transform="translate(235.39,413.14) rotate(142.29)"/>
<path d="M0 -2.5L2.5 2.1H-2.5Z" fill="#fff200" transform="translate(230.87,416.42) rotate(55.76)"/>
<path d="M0 -2.5L2.5 2.1H-2.5Z" fill="#fff200" transform="translate(226.17,419.42) rotate(59.23)"/>
<path d="M0 -2.5L2.5 2.1H-2.5Z" fill="#fff200" transform="translate(221.29,422.13) rotate(62.7)"/>
<path d="M0 -2.5L2.5 2.1H-2.5Z" fill="#fff200" transform="translate(216.26,424.54) rotate(66.17)"/>
<rect x="-2.15" y="-2.15" width="4.3" height="4.3" fill="#00a2e8" transform="translate(211.09,426.64) rotate(159.63)"/>
<rect x="-2.15" y="-2.15" width="4.3" height="4.3" fill="#00a2e8" transform="translate(205.8,428.42) rotate(163.1)"/>
<circle cx="200.42" cy="429.88" r="2.1" fill="#ee1c24"/>
<path d="M0 -2.5L2.5 2.1H-2.5Z" fill="#fff200" transform="translate(194.96,431.01) rotate(80.03)"/>
<path d="M0 -2.5L2.5 2.1H-2.5Z" fill="#fff200" transform="translate(189.44,431.81) rotate(83.5)"/>
<circle cx="183.88" cy="432.27" r="2.1" fill="#ee1c24"/>
<rect x="-2.15" y="-2.15" width="4.3" height="4.3" fill="#00a2e8" transform="translate(178.31,432.4) rotate(180.43)"/>
<path d="M0 -2.5L2.5 2.1H-2.5Z" fill="#fff200" transform="translate(172.74,432.19) rotate(93.89)"/>
<path d="M0 -2.5L2.5 2.1H-2.5Z" fill="#fff200" transform="translate(167.19,431.64) rotate(97.36)"/>
<path d="M0 -2.5L2.5 2.1H-2.5Z" fill="#fff200" transform="translate(161.69,430.76) rotate(100.82)"/>
<path d="M0 -2.5L2.5 2.1H-2.5Z" fill="#fff200" transform="translate(156.25,429.55) rotate(104.29)"/>
<rect x="-2.15" y="-2.15" width="4.3" height="4.3" fill="#00a2e8" transform="translate(150.89,428.01) rotate(197.75)"/>
<circle cx="145.64" cy="426.15" r="2.1" fill="#ee1c24"/>
<rect x="-2.15" y="-2.15" width="4.3" height="4.3" fill="#00a2e8" transform="translate(140.51,423.98) rotate(204.67)"/>
<rect x="-2.15" y="-2.15" width="4.3" height="4.3" fill="#00a2e8" transform="translate(135.52,421.51) rotate(208.14)"/>
<rect x="-2.15" y="-2.15" width="4.3" height="4.3" fill="#00a2e8" transform="translate(130.69,418.73) rotate(211.6)"/>
<rect x="-2.15" y="-2.15" width="4.3" height="4.3" fill="#00a2e8" transform="translate(126.04,415.67) rotate(215.06)"/>
<path d="M0 -2.5L2.5 2.1H-2.5Z" fill="#fff200" transform="translate(121.58,412.34) rotate(128.52)"/>
<path d="M0 -2.5L2.5 2.1H-2.5Z" fill="#fff200" transform="translate(117.33,408.74) rotate(131.98)"/>
<circle cx="113.31" cy="404.89" r="2.1" fill="#ee1c24"/>
<path d="M0 -2.5L2.5 2.1H-2.5Z" fill="#fff200" transform="translate(109.52,400.81) rotate(138.9)"/>
<rect x="-2.15" y="-2.15" width="4.3" height="4.3" fill="#00a2e8" transform="translate(105.99,396.51) rotate(232.36)"/>
<rect x="-2.15" y="-2.15" width="4.3" height="4.3" fill="#00a2e8" transform="translate(102.73,392) rotate(235.82)"/>
<circle cx="99.74" cy="387.31" r="2.1" fill="#ee1c24"/>
<path d="M0 -2.5L2.5 2.1H-2.5Z" fill="#fff200" transform="translate(97.04,382.44) rotate(152.73)"/>
<path d="M0 -2.5L2.5 2.1H-2.5Z" fill="#fff200" transform="translate(94.65,377.42) rotate(156.19)"/>
<path d="M0 -2.5L2.5 2.1H-2.5Z" fill="#fff200" transform="translate(92.56,372.26) rotate(159.65)"/>
<path d="M0 -2.5L2.5 2.1H-2.5Z" fill="#fff200" transform="translate(90.78,366.99) rotate(163.11)"/>
<circle cx="89.32" cy="361.63" r="2.1" fill="#ee1c24"/>
<circle cx="88.2" cy="356.18" r="2.1" fill="#ee1c24"/>
<rect x="-2.15" y="-2.15" width="4.3" height="4.3" fill="#00a2e8" transform="translate(87.4,350.68) rotate(263.48)"/>
<rect x="-2.15" y="-2.15" width="4.3" height="4.3" fill="#00a2e8" transform="translate(86.93,345.13) rotate(266.93)"/>
<rect x="-2.15" y="-2.15" width="4.3" height="4.3" fill="#00a2e8" transform="translate(86.8,339.58) rotate(270.39)"/>
<rect x="-2.15" y="-2.15" width="4.3" height="4.3" fill="#00a2e8" transform="translate(87.01,334.02) rotate(273.84)"/>
<circle cx="87.55" cy="328.49" r="2.1" fill="#ee1c24"/>
<rect x="-2.15" y="-2.15" width="4.3" height="4.3" fill="#00a2e8" transform="translate(88.42,323) rotate(280.75)"/>
<circle cx="89.62" cy="317.57" r="2.1" fill="#ee1c24"/>
<circle cx="91.15" cy="312.22" r="2.1" fill="#ee1c24"/>
<rect x="-2.15" y="-2.15" width="4.3" height="4.3" fill="#00a2e8" transform="translate(92.99,306.98) rotate(291.12)"/>
<circle cx="95.15" cy="301.86" r="2.1" fill="#ee1c24"/>
<circle cx="97.61" cy="296.88" r="2.1" fill="#ee1c24"/>
<rect x="-2.15" y="-2.15" width="4.3" height="4.3" fill="#00a2e8" transform="translate(100.37,292.05) rotate(301.48)"/>
<rect x="-2.15" y="-2.15" width="4.3" height="4.3" fill="#00a2e8" transform="translate(103.41,287.4) rotate(304.94)"/>
<circle cx="106.73" cy="282.94" r="2.1" fill="#ee1c24"/>
<circle cx="110.31" cy="278.69" r="2.1" fill="#ee1c24"/>
<circle cx="114.14" cy="274.67" r="2.1" fill="#ee1c24"/>
<rect x="-2.15" y="-2.15" width="4.3" height="4.3" fill="#00a2e8" transform="translate(118.21,270.88) rotate(318.75)"/>
<circle cx="122.49" cy="267.34" r="2.1" fill="#ee1c24"/>
<path d="M0 -2.5L2.5 2.1H-2.5Z" fill="#fff200" transform="translate(126.98,264.07) rotate(235.66)"/>
<path d="M0 -2.5L2.5 2.1H-2.5Z" fill="#fff200" transform="translate(131.66,261.08) rotate(239.11)"/>
<path d="M0 -2.5L2.5 2.1H-2.5Z" fill="#fff200" transform="translate(136.52,258.37) rotate(242.56)"/>
<path d="M0 -2.5L2.5 2.1H-2.5Z" fill="#fff200" transform="translate(141.52,255.96) rotate(246.02)"/>
<path d="M0 -2.5L2.5 2.1H-2.5Z" fill="#fff200" transform="translate(146.66,253.86) rotate(249.47)"/>
</g>
<g font-family="'Liberation Serif',serif" font-size="4.4" fill="#1a1a1a" stroke="#1a1a1a" stroke-width="0.1">
<text transform="translate(178.66,242.3) rotate(-90.2)" y="1.35">AT5G03550.1</text>
<text transform="translate(184.6,242.46) rotate(-86.72)" y="1.35">AT5G03550.2</text>
<text transform="translate(190.52,242.98) rotate(-83.24)" y="1.35">AT3G11100.1</text>
<text transform="translate(196.4,243.86) rotate(-79.76)" y="1.35">FvTrihelix29</text>
<text transform="translate(202.21,245.09) rotate(-76.28)" y="1.35">AT5G28050.1</text>
<text transform="translate(207.94,246.68) rotate(-72.81)" y="1.35">FvTrihelix9</text>
<text transform="translate(213.56,248.6) rotate(-69.33)" y="1.35">Os04g40150.1</text>
<text transform="translate(219.05,250.87) rotate(-65.85)" y="1.35">Os10g41460.1</text>
<text transform="translate(224.4,253.46) rotate(-62.37)" y="1.35">AT1G31310.1</text>
<text transform="translate(229.58,256.38) rotate(-58.89)" y="1.35">FvTrihelix25</text>
<text transform="translate(234.57,259.6) rotate(-55.41)" y="1.35">AT1G54060.1</text>
<text transform="translate(239.36,263.12) rotate(-51.94)" y="1.35">Os04g36790.1</text>
<text transform="translate(243.92,266.92) rotate(-48.46)" y="1.35">Os02g33610.1</text>
<text transform="translate(248.25,271) rotate(-44.98)" y="1.35">Os02g07800.2</text>
<text transform="translate(252.32,275.33) rotate(-41.5)" y="1.35">Os01g15530.1</text>
<text transform="translate(256.12,279.89) rotate(-38.03)" y="1.35">Os08g15340.1</text>
<text transform="translate(259.64,284.68) rotate(-34.55)" y="1.35">Os01g52090.1</text>
<text transform="translate(262.85,289.67) rotate(-31.07)" y="1.35">FvTrihelix24</text>
<text transform="translate(265.76,294.85) rotate(-27.59)" y="1.35">AT1G21490.1</text>
<text transform="translate(268.35,300.2) rotate(-24.12)" y="1.35">FvTrihelix1</text>
<text transform="translate(270.62,305.69) rotate(-20.64)" y="1.35">AT3G10030.1</text>
<text transform="translate(272.54,311.31) rotate(-17.16)" y="1.35">AT3G10030.2</text>
<text transform="translate(274.12,317.03) rotate(-13.69)" y="1.35">FvTrihelix21</text>
<text transform="translate(275.35,322.84) rotate(-10.21)" y="1.35">Os08g37870.1</text>
<text transform="translate(276.22,328.71) rotate(-6.74)" y="1.35">AT3G54390.1</text>
<text transform="translate(276.74,334.63) rotate(-3.26)" y="1.35">FvTrihelix27</text>
<text transform="translate(276.9,340.56) rotate(0.21)" y="1.35">FvTrihelix6</text>
<text transform="translate(276.7,346.49) rotate(3.69)" y="1.35">Os08g37810.1</text>
<text transform="translate(276.14,352.4) rotate(7.16)" y="1.35">AT3G24860.1</text>
<text transform="translate(275.22,358.27) rotate(10.63)" y="1.35">Os10g41460.1</text>
<text transform="translate(273.95,364.06) rotate(14.11)" y="1.35">Os04g45940.1</text>
<text transform="translate(272.33,369.77) rotate(17.58)" y="1.35">AT2G44730.1</text>
<text transform="translate(270.36,375.37) rotate(21.05)" y="1.35">FvTrihelix11</text>
<text transform="translate(268.07,380.84) rotate(24.53)" y="1.35">FvTrihelix16</text>
<text transform="translate(265.44,386.16) rotate(28)" y="1.35">FvTrihelix17</text>
<text transform="translate(262.5,391.31) rotate(31.47)" y="1.35">Os02g17500.1</text>
<text transform="translate(259.25,396.27) rotate(34.94)" y="1.35">AT3G10040.1</text>
<text transform="translate(255.71,401.03) rotate(38.41)" y="1.35">FvTrihelix20</text>
<text transform="translate(251.89,405.56) rotate(41.88)" y="1.35">FvTrihelix7</text>
<text transform="translate(247.8,409.85) rotate(45.35)" y="1.35">AT1G76870.1</text>
<text transform="translate(243.46,413.89) rotate(48.82)" y="1.35">FvTrihelix5</text>
<text transform="translate(238.88,417.65) rotate(52.29)" y="1.35">AT1G21200.1</text>
<text transform="translate(234.08,421.13) rotate(55.76)" y="1.35">Os02g43370.1</text>
<text transform="translate(229.08,424.32) rotate(59.23)" y="1.35">Os04g40930.1</text>
<text transform="translate(223.9,427.19) rotate(62.7)" y="1.35">Os10g41460.2</text>
<text transform="translate(218.56,429.75) rotate(66.17)" y="1.35">Os11g06410.1</text>
<text transform="translate(213.07,431.98) rotate(69.63)" y="1.35">AT5G63420.1</text>
<text transform="translate(207.46,433.87) rotate(73.1)" y="1.35">AT2G35640.1</text>
<text transform="translate(201.74,435.42) rotate(76.57)" y="1.35">FvTrihelix30</text>
<text transform="translate(195.94,436.62) rotate(80.03)" y="1.35">Os07g38510.1</text>
<text transform="translate(190.08,437.47) rotate(83.5)" y="1.35">Os03g02240.1</text>
<text transform="translate(184.18,437.96) rotate(86.97)" y="1.35">FvTrihelix10</text>
<text transform="translate(178.26,438.1) rotate(90.43)" y="1.35">AT2G38250.1</text>
<text transform="translate(172.35,437.87) rotate(273.89)" y="1.35" text-anchor="end">Os02g35690.1</text>
<text transform="translate(166.46,437.29) rotate(277.36)" y="1.35" text-anchor="end">Os04g51320.1</text>
<text transform="translate(160.62,436.36) rotate(280.82)" y="1.35" text-anchor="end">Os12g06640.1</text>
<text transform="translate(154.84,435.07) rotate(284.29)" y="1.35" text-anchor="end">Os11g06410.2</text>
<text transform="translate(149.16,433.44) rotate(287.75)" y="1.35" text-anchor="end">AT1G13450.1</text>
<text transform="translate(143.58,431.47) rotate(291.21)" y="1.35" text-anchor="end">FvTrihelix12</text>
<text transform="translate(138.13,429.16) rotate(294.67)" y="1.35" text-anchor="end">AT5G01380.1</text>
<text transform="translate(132.83,426.53) rotate(298.14)" y="1.35" text-anchor="end">AT5G01380.2</text>
<text transform="translate(127.71,423.59) rotate(301.6)" y="1.35" text-anchor="end">AT3G25990.2</text>
<text transform="translate(122.77,420.34) rotate(305.06)" y="1.35" text-anchor="end">AT1G33240.1</text>
<text transform="translate(118.03,416.8) rotate(308.52)" y="1.35" text-anchor="end">Os04g40930.2</text>
<text transform="translate(113.52,412.98) rotate(311.98)" y="1.35" text-anchor="end">Os02g43300.1</text>
<text transform="translate(109.25,408.89) rotate(315.44)" y="1.35" text-anchor="end">FvTrihelix18</text>
<text transform="translate(105.23,404.56) rotate(318.9)" y="1.35" text-anchor="end">Os04g57530.1</text>
<text transform="translate(101.48,399.99) rotate(322.36)" y="1.35" text-anchor="end">AT5G05550.1</text>
<text transform="translate(98.01,395.2) rotate(325.82)" y="1.35" text-anchor="end">AT3G58630.1</text>
<text transform="translate(94.84,390.22) rotate(329.28)" y="1.35" text-anchor="end">FvTrihelix19</text>
<text transform="translate(91.98,385.05) rotate(332.73)" y="1.35" text-anchor="end">Os10g37240.4</text>
<text transform="translate(89.43,379.72) rotate(336.19)" y="1.35" text-anchor="end">Os10g37240.2</text>
<text transform="translate(87.21,374.25) rotate(339.65)" y="1.35" text-anchor="end">Os10g37240.3</text>
<text transform="translate(85.32,368.65) rotate(343.11)" y="1.35" text-anchor="end">Os02g01380.1</text>
<text transform="translate(83.78,362.95) rotate(346.56)" y="1.35" text-anchor="end">FvTrihelix28</text>
<text transform="translate(82.58,357.17) rotate(350.02)" y="1.35" text-anchor="end">FvTrihelix22</text>
<text transform="translate(81.73,351.32) rotate(353.48)" y="1.35" text-anchor="end">AT5G03680.1</text>
<text transform="translate(81.24,345.44) rotate(356.93)" y="1.35" text-anchor="end">AT3G10000.1</text>
<text transform="translate(81.1,339.54) rotate(360.39)" y="1.35" text-anchor="end">AT3G10000.2</text>
<text transform="translate(81.32,333.64) rotate(363.84)" y="1.35" text-anchor="end">AT1G13240.1</text>
<text transform="translate(81.89,327.76) rotate(367.3)" y="1.35" text-anchor="end">FvTrihelix15</text>
<text transform="translate(82.82,321.93) rotate(370.75)" y="1.35" text-anchor="end">AT1G76890.2</text>
<text transform="translate(84.1,316.17) rotate(374.21)" y="1.35" text-anchor="end">FvTrihelix3</text>
<text transform="translate(85.72,310.49) rotate(377.66)" y="1.35" text-anchor="end">FvTrihelix4</text>
<text transform="translate(87.68,304.93) rotate(381.12)" y="1.35" text-anchor="end">AT1G76880.1</text>
<text transform="translate(89.97,299.49) rotate(384.57)" y="1.35" text-anchor="end">FvTrihelix23</text>
<text transform="translate(92.58,294.2) rotate(388.03)" y="1.35" text-anchor="end">FvTrihelix8</text>
<text transform="translate(95.51,289.07) rotate(391.48)" y="1.35" text-anchor="end">AT5G47660.1</text>
<text transform="translate(98.74,284.14) rotate(394.94)" y="1.35" text-anchor="end">AT3G25990.1</text>
<text transform="translate(102.26,279.4) rotate(398.39)" y="1.35" text-anchor="end">FvTrihelix2</text>
<text transform="translate(106.07,274.89) rotate(401.84)" y="1.35" text-anchor="end">FvTrihelix26</text>
<text transform="translate(110.13,270.62) rotate(405.3)" y="1.35" text-anchor="end">FvTrihelix13</text>
<text transform="translate(114.45,266.6) rotate(408.75)" y="1.35" text-anchor="end">AT5G28300.1</text>
<text transform="translate(119,262.84) rotate(412.2)" y="1.35" text-anchor="end">FvTrihelix14</text>
<text transform="translate(123.77,259.37) rotate(415.66)" y="1.35" text-anchor="end">Os04g33610.1</text>
<text transform="translate(128.74,256.19) rotate(419.11)" y="1.35" text-anchor="end">Os02g33770.1</text>
<text transform="translate(133.89,253.31) rotate(422.56)" y="1.35" text-anchor="end">Os10g37580.1</text>
<text transform="translate(139.21,250.75) rotate(426.02)" y="1.35" text-anchor="end">Os04g45750.1</text>
<text transform="translate(144.67,248.52) rotate(429.47)" y="1.35" text-anchor="end">Os09g27590.1</text>
</g>
</g>
<circle cx="342.9" cy="426.3" r="6.8" fill="#ee1c24"/>
<rect x="336.1" y="440.5" width="12.7" height="12.9" fill="#00a2e8"/>
<path d="M342.3 461.5L348.5 472.3H336.2Z" fill="#fff200"/>
<g font-family="'Liberation Serif',serif" font-size="7.3" fill="#1a1a1a">
<text x="356.3" y="429.9">Fragaria vesca</text>
<text x="355.2" y="450.9">Arabidopsis thaliana</text>
<text x="355.2" y="470.7">Oryza sativa</text>
</g>
</g>
</svg>
</body>
</html>
